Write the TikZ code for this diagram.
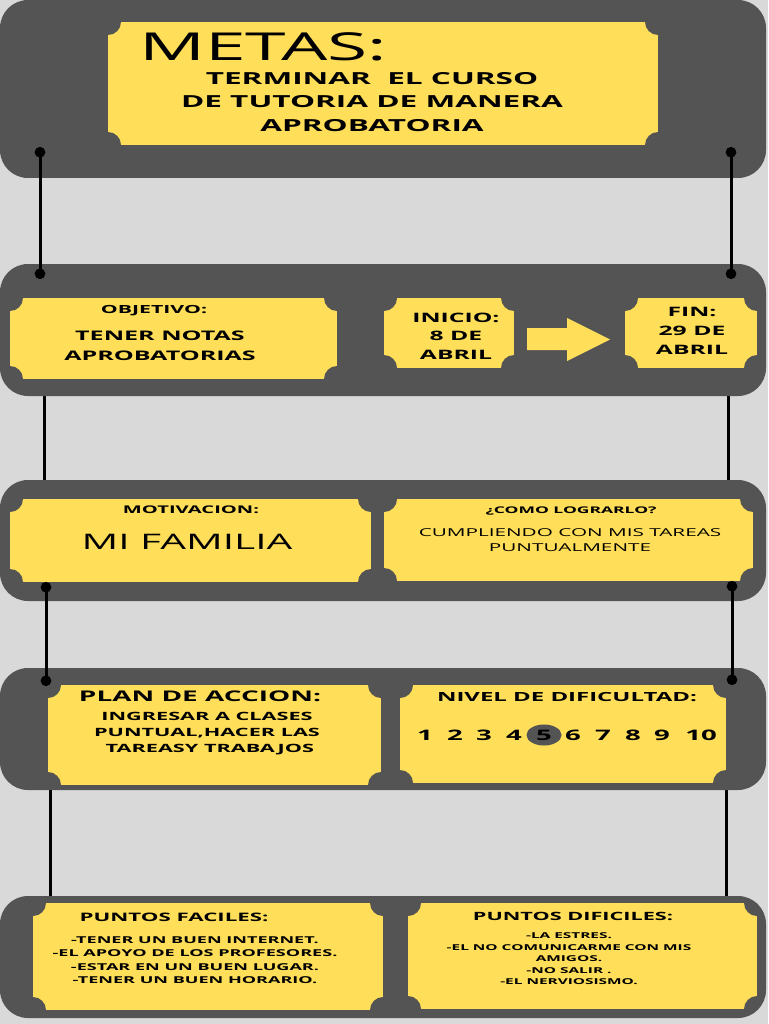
\documentclass[tikz,border=0pt]{standalone}
\usepackage{fontspec}
\setmainfont{Open Sans}[FakeStretch=1.9]
\usetikzlibrary{arrows.meta}

\definecolor{fondo}{HTML}{D9D9D9}
\definecolor{panelgris}{HTML}{545454}
\definecolor{amarillo}{HTML}{FFDE59}

\newcommand{\tam}[2]{\fontsize{#1}{#2}\selectfont}

\begin{document}
\begin{tikzpicture}[x=1pt, y=-1pt]

    \tikzset{
        panel/.style={
            fill=panelgris,
            rounded corners=28pt,
            inner sep=0pt
        },
        boleto/.style={
            fill=amarillo,
            inner sep=0pt,
            path picture={
                \foreach \esq in {north west, north east, south west, south east}
                    \fill[panelgris] (path picture bounding box.\esq) circle (13pt);
            }
        },
        texto/.style={
            align=center,
            inner sep=0pt,
            text=black
        },
        hilo/.style={
            line width=3pt,
            draw=black
        },
        pin/.style={
            hilo,
            {Circle[length=10.5pt]}-{Circle[length=10.5pt]},
            shorten <=-5pt,
            shorten >=-5pt
        }
    }

    % fondo
    \useasboundingbox (0,0) rectangle (768,1024);
    \fill[fondo] (0,0) rectangle (768,1024);

    % puntos de los hilos
    \coordinate (a1) at (40,152);
    \coordinate (a2) at (40,274);
    \coordinate (b1) at (731,152);
    \coordinate (b2) at (731,274);
    \coordinate (c1) at (44,396);
    \coordinate (c2) at (44,480);
    \coordinate (d1) at (728,396);
    \coordinate (d2) at (728,480);
    \coordinate (e1) at (46,587);
    \coordinate (e2) at (46,681);
    \coordinate (f1) at (732,586);
    \coordinate (f2) at (732,680);
    \coordinate (g1) at (50,790);
    \coordinate (g2) at (50,896);
    \coordinate (h1) at (726,790);
    \coordinate (h2) at (726,896);

    % hilos sin puntos
    \draw[hilo] (c1) -- (c2);
    \draw[hilo] (d1) -- (d2);
    \draw[hilo] (g1) -- (g2);
    \draw[hilo] (h1) -- (h2);

    % paneles
    \node[panel, minimum width=766pt, minimum height=178pt] (p1) at (383,89) {};
    \node[panel, minimum width=766pt, minimum height=132pt] (p2) at (383,330) {};
    \node[panel, minimum width=766pt, minimum height=121pt] (p3) at (383,540.5) {};
    \node[panel, minimum width=766pt, minimum height=122pt] (p4) at (383,729) {};
    \node[panel, minimum width=766pt, minimum height=122pt] (p5) at (383,957) {};

    % boletos
    \node[boleto, minimum width=550pt, minimum height=123pt] (metas) at (383,83.5) {};
    \node[boleto, minimum width=327pt, minimum height=81pt] (objetivo) at (173.5,338.5) {};
    \node[boleto, minimum width=130pt, minimum height=70pt] (inicio) at (449,333) {};
    \node[boleto, minimum width=132pt, minimum height=70pt] (fin) at (691,333) {};
    \node[boleto, minimum width=361pt, minimum height=83pt] (motivacion) at (190.5,540.5) {};
    \node[boleto, minimum width=369pt, minimum height=82pt] (como) at (568.5,540) {};
    \node[boleto, minimum width=333pt, minimum height=100pt] (plan) at (214.5,735) {};
    \node[boleto, minimum width=326pt, minimum height=98pt] (nivel) at (563,734) {};
    \node[boleto, minimum width=350pt, minimum height=107pt] (faciles) at (208,956.5) {};
    \node[boleto, minimum width=349pt, minimum height=106pt] (dificiles) at (582.5,956) {};

    % flecha entre inicio y fin
    \fill[amarillo] (527,328) -- (567,328) -- (567,318) -- (610,339.5)
        -- (567,361) -- (567,350) -- (527,350) -- cycle;

    % hilos con puntos
    \draw[pin] (a1) -- (a2);
    \draw[pin] (b1) -- (b2);
    \draw[pin] (e1) -- (e2);
    \draw[pin] (f1) -- (f2);

    % textos
    \node[texto, anchor=base west, font=\tam{38.5}{40}] (tmetas) at (139,61) {METAS:};
    \node[texto, font=\bfseries\tam{16.6}{23.5}] (tmeta) at (372,102)
        {TERMINAR \ EL CURSO\\DE TUTORIA DE MANERA\\APROBATORIA};
    \node[texto, font=\bfseries\tam{11.2}{13}] (tobj) at (154,311) {OBJETIVO:};
    \node[texto, font=\bfseries\tam{13.2}{20}] (tobj2) at (160,346)
        {TENER NOTAS\\APROBATORIAS};
    \node[texto, font=\bfseries\tam{13}{18.5}] (tini) at (456,336)
        {INICIO:\\8 DE\\ABRIL};
    \node[texto, font=\bfseries\tam{13}{19}] (tfin) at (692,331)
        {FIN:\\29 DE\\ABRIL};
    \node[texto, font=\bfseries\tam{10.6}{12}] (tmot) at (191,510) {MOTIVACION:};
    \node[texto, font=\tam{21.4}{24}] (tmot2) at (187,542) {MI FAMILIA};
    \node[texto, font=\bfseries\tam{9.2}{11}] (tcomo) at (571,511) {¿COMO LOGRARLO?};
    \node[texto, font=\tam{10.9}{15}] (tcomo2) at (570,540)
        {CUMPLIENDO CON MIS TAREAS\\PUNTUALMENTE};
    \node[texto, font=\bfseries\tam{14.7}{17}] (tplan) at (200,696) {PLAN DE ACCION:};
    \node[texto, font=\bfseries\tam{11.4}{16}] (tplan2) at (207,734)
        {INGRESAR A CLASES\\PUNTUAL,HACER LAS\\ \ TAREASY TRABAJOS};
    \node[texto, font=\bfseries\tam{12.6}{15}] (tnivel) at (567,697) {NIVEL DE DIFICULTAD:};

    % escala de dificultad
    \fill[panelgris] (544,735) ellipse (17.5pt and 10.5pt);
    \foreach \n/\x in {1/425,2/455,3/484,4/514,5/544,6/573,7/603,8/633,9/662,10/701}
        \node[texto, font=\bfseries\tam{14.5}{16}] (n\n) at (\x,735) {\n};

    \node[texto, font=\bfseries\tam{11.7}{14}] (tfac) at (174,917) {PUNTOS FACILES:};
    \node[texto, font=\bfseries\tam{9.5}{13.5}] (tfac2) at (195,960)
        {-TENER UN BUEN INTERNET.\\-EL APOYO DE LOS PROFESORES.\\-ESTAR EN UN BUEN LUGAR.\\-TENER UN BUEN HORARIO.};
    \node[texto, font=\bfseries\tam{11.4}{14}] (tdif) at (573,916) {PUNTOS DIFICILES:};
    \node[texto, font=\bfseries\tam{8.1}{11.5}] (tdif2) at (569,959)
        {-LA ESTRES.\\-EL NO COMUNICARME CON MIS\\AMIGOS.\\-NO SALIR .\\-EL NERVIOSISMO.};

\end{tikzpicture}
\end{document}
